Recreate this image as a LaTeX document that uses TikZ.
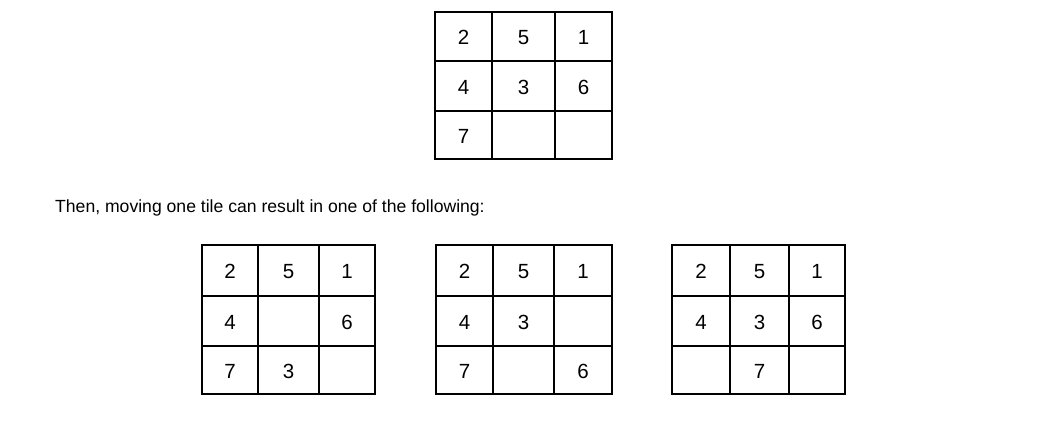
\documentclass[tikz,border=0pt]{standalone}
\usepackage{fontspec}
\setmainfont{Liberation Sans}
\tikzset{
  gl/.style={line width=1.6pt, line cap=rect},
  num/.style={inner sep=0pt, font=\fontsize{20.5}{20.5}\selectfont},
  caption/.style={inner sep=0pt, anchor=base west, font=\fontsize{17.6}{19}\selectfont}
}
\def\splitxs#1,#2,#3,#4\relax{\def\xa{#1}\def\xb{#2}\def\xc{#3}\def\xd{#4}}
\def\splitys#1,#2,#3,#4\relax{\def\ya{#1}\def\yb{#2}\def\yc{#3}\def\yd{#4}}
% #1 name, #2 x-list (4 values), #3 y-list (4 values), #4 entries (9, row by row)
\newcommand\tilegrid[4]{%
  \splitxs#2\relax\splitys#3\relax
  \draw[gl] (\xa,\ya) rectangle (\xd,\yd);
  \draw[gl] (\xb,\ya) -- (\xb,\yd) (\xc,\ya) -- (\xc,\yd)
            (\xa,\yb) -- (\xd,\yb) (\xa,\yc) -- (\xd,\yc);
  \foreach \t [count=\i from 0] in {#4} {
    \pgfmathtruncatemacro\cc{mod(\i,3)}
    \pgfmathtruncatemacro\rr{div(\i,3)}
    \ifcase\cc \edef\pa{\xa}\edef\pb{\xb}\or \edef\pa{\xb}\edef\pb{\xc}\else \edef\pa{\xc}\edef\pb{\xd}\fi
    \ifcase\rr \edef\qa{\ya}\edef\qb{\yb}\or \edef\qa{\yb}\edef\qb{\yc}\else \edef\qa{\yc}\edef\qb{\yd}\fi
    \node[num] (#1-\i) at ({(\pa+\pb)/2},{(\qa+\qb)/2+1}) {\t};
  }
}
\begin{document}
\begin{tikzpicture}[x=1pt,y=-1pt]
\useasboundingbox[fill=white] (0,0) rectangle (1054,420);
\tilegrid{top}{435,492,555,612}{12,61,111,159}{2,5,1,4,3,6,7,{},{}}
\node[caption] (cap) at (55,212.5) {Then, moving one tile can result in one of the following:};
\tilegrid{left}{202,258,319,375}{245,296,346,394}{2,5,1,4,{},6,7,3,{}}
\tilegrid{mid}{436,493,554,612}{245,296,346,394}{2,5,1,4,3,{},7,{},6}
\tilegrid{right}{672,730,789,845}{245,296,346,394}{2,5,1,4,3,6,{},7,{}}
\end{tikzpicture}
\end{document}
